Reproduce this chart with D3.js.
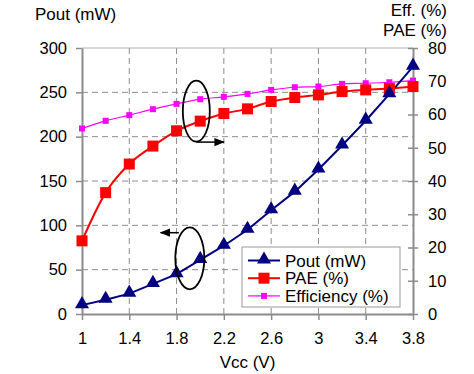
<!DOCTYPE html>
<html>
<head>
<meta charset="utf-8">
<script src="https://cdn.jsdelivr.net/npm/d3@7"></script>
<style>
	body { margin: 0; background: #fff; }
	text { font-family: "Liberation Sans", Arial, sans-serif; fill: #000; }
</style>
</head>
<body>
<div id="chart"></div>
<script>
// supply voltage (V)
var vcc = [1, 1.2, 1.4, 1.6, 1.8, 2.0, 2.2, 2.4, 2.6, 2.8, 3.0, 3.2, 3.4, 3.6, 3.8];
// output power, left axis
var pout = [10, 16, 23, 34, 45, 61, 77, 95, 117, 138, 163, 190, 218, 248, 279];
// right axis series
var pae = [22, 36.5, 45.1, 50.5, 55.1, 58, 60.3, 61.7, 63.9, 65.1, 65.9, 66.9, 67.4, 67.8, 68.4];
var efficiency = [55.8, 58.1, 59.8, 61.6, 63.2, 64.6, 65.3, 66.2, 67.4, 68.2, 68.4, 69.2, 69.4, 69.7, 70.2];

var xTicks = [1, 1.4, 1.8, 2.2, 2.6, 3, 3.4, 3.8];
var leftTicks = [0, 50, 100, 150, 200, 250, 300];
var rightTicks = [0, 10, 20, 30, 40, 50, 60, 70, 80];
var legendNames = ['Pout (mW)', 'PAE (%)', 'Efficiency (%)'];

var width = 474, height = 374;
var margin = {top: 48, right: 61, bottom: 60, left: 82};

var svg = d3.select('#chart')
	.append('svg')
	.attr('width', width)
	.attr('height', height);

var x = d3.scaleLinear().domain([1, 3.8]).range([margin.left, width - margin.right]);
var yLeft = d3.scaleLinear().domain([0, 300]).range([height - margin.bottom, margin.top]);
var yRight = d3.scaleLinear().domain([0, 80]).range([height - margin.bottom, margin.top]);

var gridColor = '#8c8c8c';

// dashed grid
svg.append('g')
	.selectAll('line')
	.data(xTicks.slice(1, -1))
	.enter().append('line')
	.attr('x1', x).attr('x2', x)
	.attr('y1', margin.top).attr('y2', height - margin.bottom)
	.attr('stroke', gridColor)
	.attr('stroke-width', 1)
	.style('stroke-dasharray', '6, 4');

svg.append('g')
	.selectAll('line')
	.data(leftTicks.slice(1, -1))
	.enter().append('line')
	.attr('y1', yLeft).attr('y2', yLeft)
	.attr('x1', margin.left).attr('x2', width - margin.right)
	.attr('stroke', gridColor)
	.attr('stroke-width', 1)
	.style('stroke-dasharray', '6, 4');

// top border
svg.append('line')
	.attr('x1', margin.left).attr('x2', width - margin.right)
	.attr('y1', margin.top).attr('y2', margin.top)
	.attr('stroke', '#b0b0b0');

function styleAxis(g) {
	g.selectAll('.domain').attr('stroke', gridColor).attr('stroke-width', 2);
	g.selectAll('.tick line').attr('stroke', gridColor).attr('stroke-width', 1.5);
	g.selectAll('.tick text')
		.style('font-family', '"Liberation Sans", Arial, sans-serif')
		.style('font-size', '16.5px')
		.attr('fill', '#000');
}

// axes
svg.append('g')
	.attr('transform', 'translate(0,' + (height - margin.bottom) + ')')
	.call(d3.axisBottom(x).tickValues(xTicks).tickFormat(d3.format('')).tickSize(6).tickSizeOuter(0).tickPadding(12))
	.call(styleAxis);

svg.append('g')
	.attr('transform', 'translate(' + margin.left + ',0)')
	.call(d3.axisLeft(yLeft).tickValues(leftTicks).tickSize(6).tickSizeOuter(0).tickPadding(9))
	.call(styleAxis);

var rightAxis = svg.append('g')
	.attr('transform', 'translate(' + (width - margin.right) + ',0)')
	.call(d3.axisRight(yRight).tickValues(rightTicks).tickSize(5).tickSizeOuter(0).tickPadding(10))
	.call(styleAxis);
// ticks cross the right axis
rightAxis.selectAll('.tick line').attr('x1', -5);

// series
var poutData = vcc.map(function (v, i) { return [v, pout[i]]; });
var paeData = vcc.map(function (v, i) { return [v, pae[i]]; });
var effData = vcc.map(function (v, i) { return [v, efficiency[i]]; });

var lineLeft = d3.line().x(function (d) { return x(d[0]); }).y(function (d) { return yLeft(d[1]); });
var lineRight = d3.line().x(function (d) { return x(d[0]); }).y(function (d) { return yRight(d[1]); }).curve(d3.curveMonotoneX);

svg.append('path').datum(effData)
	.attr('d', lineRight).attr('fill', 'none')
	.attr('stroke', '#ff00ff').attr('stroke-width', 1.2);

svg.append('path').datum(paeData)
	.attr('d', lineRight).attr('fill', 'none')
	.attr('stroke', '#ff0000').attr('stroke-width', 2);

svg.append('path').datum(poutData)
	.attr('d', lineLeft).attr('fill', 'none')
	.attr('stroke', '#000080').attr('stroke-width', 2);

var triangle = d3.symbol().type(d3.symbolTriangle).size(85);

svg.append('g').selectAll('rect')
	.data(effData)
	.enter().append('rect')
	.attr('x', function (d) { return x(d[0]) - 3; })
	.attr('y', function (d) { return yRight(d[1]) - 3; })
	.attr('width', 6).attr('height', 6)
	.attr('fill', '#ff00ff');

svg.append('g').selectAll('rect')
	.data(paeData)
	.enter().append('rect')
	.attr('x', function (d) { return x(d[0]) - 5.5; })
	.attr('y', function (d) { return yRight(d[1]) - 5.5; })
	.attr('width', 11).attr('height', 11)
	.attr('fill', '#ff0000');

svg.append('g').selectAll('path')
	.data(poutData)
	.enter().append('path')
	.attr('d', triangle)
	.attr('transform', function (d) { return 'translate(' + x(d[0]) + ',' + (yLeft(d[1]) - 1) + ')'; })
	.attr('fill', '#000080');

// annotations: ellipses and arrows, in data coordinates
var defs = svg.append('defs');
defs.append('marker')
	.attr('id', 'arrow')
	.attr('viewBox', '0 0 10 10')
	.attr('refX', 9).attr('refY', 5)
	.attr('markerWidth', 7).attr('markerHeight', 7)
	.attr('orient', 'auto')
	.append('path')
	.attr('d', 'M0,1 L10,5 L0,9 z')
	.attr('fill', '#000');

// right-axis group
svg.append('ellipse')
	.attr('cx', x(1.967)).attr('cy', yRight(61))
	.attr('rx', 13.5).attr('ry', 30.5)
	.attr('fill', 'none').attr('stroke', '#000').attr('stroke-width', 1.8);
svg.append('line')
	.attr('x1', x(1.967)).attr('y1', yRight(51.7))
	.attr('x2', x(2.2)).attr('y2', yRight(51.7))
	.attr('stroke', '#000').attr('stroke-width', 1.5)
	.attr('marker-end', 'url(#arrow)');

// left-axis group
svg.append('ellipse')
	.attr('cx', x(1.912)).attr('cy', yLeft(62.8))
	.attr('rx', 14.5).attr('ry', 31)
	.attr('fill', 'none').attr('stroke', '#000').attr('stroke-width', 1.8);
svg.append('line')
	.attr('x1', x(1.82)).attr('y1', yLeft(91.7))
	.attr('x2', x(1.665)).attr('y2', yLeft(91.7))
	.attr('stroke', '#000').attr('stroke-width', 1.5)
	.attr('marker-end', 'url(#arrow)');

// axis titles
svg.append('text')
	.attr('x', 35).attr('y', 20)
	.style('font-size', '17px')
	.text('Pout (mW)');

svg.append('text')
	.attr('x', 447).attr('y', 16)
	.attr('text-anchor', 'end')
	.style('font-size', '17px')
	.text('Eff. (%)');

svg.append('text')
	.attr('x', 447).attr('y', 36)
	.attr('text-anchor', 'end')
	.style('font-size', '17px')
	.text('PAE (%)');

svg.append('text')
	.attr('x', x(2.4)).attr('y', 368)
	.attr('text-anchor', 'middle')
	.style('font-size', '17px')
	.text('Vcc (V)');

// legend
var legend = svg.append('g').attr('transform', 'translate(242,247)');
legend.append('rect')
	.attr('width', 158).attr('height', 60)
	.attr('fill', '#fff')
	.attr('stroke', '#999').attr('stroke-width', 1);

var legendColors = ['#000080', '#ff0000', '#ff00ff'];
var items = legend.selectAll('.item')
	.data(legendNames)
	.enter().append('g')
	.attr('transform', function (d, i) { return 'translate(0,' + (13.5 + i * 17.7) + ')'; });

items.append('line')
	.attr('x1', 6).attr('x2', 38)
	.attr('stroke', function (d, i) { return legendColors[i]; })
	.attr('stroke-width', function (d, i) { return i === 2 ? 1.2 : 2; });

items.each(function (d, i) {
	var g = d3.select(this);
	if (i === 0) {
		g.append('path').attr('d', triangle).attr('transform', 'translate(22,-1)').attr('fill', legendColors[0]);
	} else if (i === 1) {
		g.append('rect').attr('x', 16.5).attr('y', -5.5).attr('width', 11).attr('height', 11).attr('fill', legendColors[1]);
	} else {
		g.append('rect').attr('x', 19).attr('y', -3).attr('width', 6).attr('height', 6).attr('fill', legendColors[2]);
	}
});

items.append('text')
	.attr('x', 43).attr('y', 6)
	.style('font-size', '17px')
	.text(function (d) { return d; });
</script>
</body>
</html>
